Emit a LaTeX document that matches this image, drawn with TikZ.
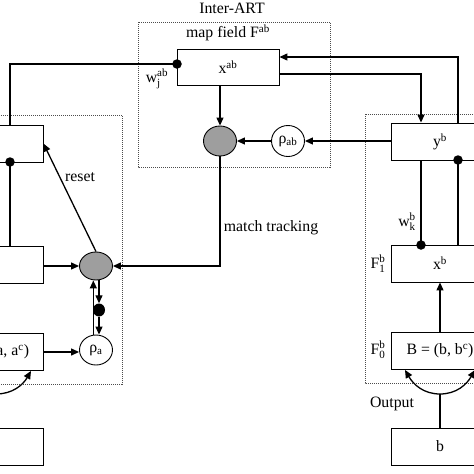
\documentclass[tikz,border=0pt]{standalone}
\usepackage{fontspec}
\usepackage{amsmath}
\setmainfont{Liberation Serif}
\usetikzlibrary{arrows.meta,shapes.geometric,calc}
\definecolor{circgray}{gray}{0.62}
\begin{document}
\begin{tikzpicture}[x=1pt,y=-1pt,
  every node/.style={font=\fontsize{15.8}{18}\selectfont},
  box/.style={draw,line width=0.9pt,rectangle,minimum height=37pt,inner sep=0pt},
  rbox/.style={box,minimum width=98pt},
  lbox/.style={box,minimum width=94pt},
  gcirc/.style={draw,line width=0.9pt,ellipse,fill=circgray,minimum width=33pt,minimum height=30pt,inner sep=0pt},
  wcirc/.style={draw,line width=0.9pt,ellipse,fill=white,minimum width=33pt,minimum height=31pt,inner sep=0pt},
  dot/.style={circle,fill=black,minimum size=9.5pt,inner sep=0pt},
  bigdot/.style={ellipse,fill=black,minimum width=12pt,minimum height=13pt,inner sep=0pt},
  conn/.style={line width=1.3pt},
  arr/.style={conn,-{Triangle[length=8pt,width=7pt]}},
  dotbox/.style={line width=0.8pt,gray!60!black,dash pattern=on 1pt off 1pt}
]
\useasboundingbox (0,0) rectangle (474,474);
\clip (0,0) rectangle (474,474);

% dotted module boxes
\draw[dotbox] (138,22) rectangle (330,167);
\draw[dotbox] (-10,115) rectangle (122,384);
\draw[dotbox] (365,114) rectangle (495,383);

% right module (ARTb)
\node[rbox] (yb) at (440,141.5) {y$^\text{b}$};
\node[rbox] (xb) at (440,263.5) {x$^\text{b}$};
\node[rbox] (Bb) at (440,351) {B = (b, b$^\text{c}$)};
\node[rbox] (bb) at (440,446.5) {b};

% left module (ARTa)
\node[lbox] (ya) at (-4,143.5) {};
\node[lbox] (xa) at (-4,265) {};
\node[lbox] (Aa) at (-4,352) {A = (a, a$^\text{c}$)};
\node[lbox] (aa) at (-4,447) {};

% map field
\node[box,minimum width=102pt,minimum height=36pt] (xab) at (228,67) {x$^\text{ab}$};

% circles
\node[gcirc] (g1) at (220,141) {};
\node[wcirc] (rab) at (288,141) {ρ$_\text{ab}$};
\node[gcirc,minimum height=28pt] (g2) at (96,266) {};
\node[wcirc,minimum height=30pt] (ra) at (96,350) {ρ$_\text{a}$};

% labels
\node (tit) at (232,8) {Inter-ART};
\node (mf) at (228,33) {map field F$^\text{ab}$};
\node (wj) at (157,79) {w$^\text{ab}_\text{j}$};
\node (wk) at (407,222) {w$^\text{b}_\text{k}$};
\node (F1) at (378,264) {F$^\text{b}_\text{1}$};
\node (F0) at (378,350) {F$^\text{b}_\text{0}$};
\node (outp) at (392,404) {Output};
\node (rs) at (80,177) {reset};
\node (mt) at (271,228) {match tracking};

% weight from map field to F2a
\node[dot] (dj) at (177,64) {};
\coordinate (c1) at (10,64);
\draw[conn] (dj.center) -- (c1) -- (c1 |- ya.north);
\node[dot] (da) at (10,162) {};
\draw[conn] (da.center) -- (da.center |- xa.north);

% right connections to map field
\coordinate (r1) at (458,57);
\draw[arr] (r1 |- yb.north) -- (r1) -- (r1 -| xab.east);
\coordinate (r2) at (421,74);
\draw[arr] (r2 -| xab.east) -- (r2) -- (r2 |- yb.north);
\node[dot] (dyb) at (458,160) {};
\draw[conn] (dyb.center) -- (dyb.center |- xb.north);
\node[dot] (dxb) at (421,245) {};
\draw[conn] (dxb.center) -- (dxb.center |- yb.south);
\draw[arr] (Bb.north) -- (xb.south);

% map field vigilance
\draw[arr] (g1.north |- xab.south) -- (g1.north);
\draw[arr] (yb.west |- rab.east) -- (rab.east);
\draw[arr] (rab.west) -- (g1.east);

% match tracking
\draw[arr] (g1.south) -- (g1.south |- g2.east) -- (g2.east);
\draw[arr] (xa.east |- g2.west) -- (g2.west);
\draw[arr] (g2.north) -- (ya.east);

% vigilance loop ARTa
\draw[arr] (ra.100) -- (ra.100 |- g2.south);
\node[bigdot] (dm) at (99,310) {};
\draw[arr] (g2.south -| dm) -- (dm.north);
\draw[arr] (dm.south) -- (dm.south |- ra.north);
\draw[arr] (Aa.east) -- (Aa.east -| ra.west);

% complement coding curves
\coordinate (bc) at (440,394);
\draw[conn] (bb.north) -- (bc);
\draw[arr] (bc) to[out=180,in=-60] ($(Bb.south)+(-35,0)$);
\draw[arr] (bc) to[out=0,in=-120] ($(Bb.south)+(35,0)$);
\coordinate (ac) at (-4,394);
\draw[conn] (aa.north) -- (ac);
\draw[arr] (ac) to[out=0,in=-120] ($(Aa.south)+(35,0)$);
\end{tikzpicture}
\end{document}
